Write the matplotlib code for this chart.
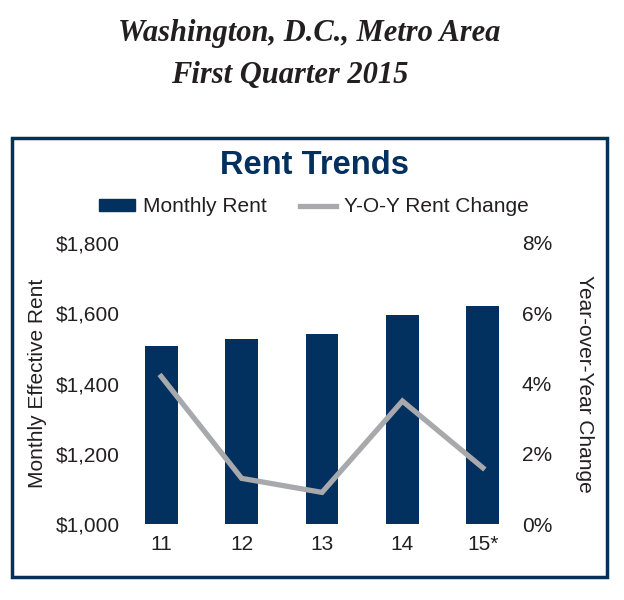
import matplotlib
matplotlib.use("Agg")
import matplotlib.pyplot as plt
from matplotlib.patches import Rectangle, Patch
from matplotlib.lines import Line2D
from matplotlib.ticker import FuncFormatter

categories = ["11", "12", "13", "14", "15*"]
monthly_rent = [1507, 1527, 1541, 1595, 1621]
yoy_change = [4.2, 1.3, 0.9, 3.5, 1.6]
rent_ticks = [1000, 1200, 1400, 1600, 1800]
pct_ticks = [0, 2, 4, 6, 8]

NAVY = "#02305f"
GRAY = "#a7a9ac"
TXT = "#231f20"
plt.rcParams['font.family'] = ['Liberation Sans', 'DejaVu Sans']

fig = plt.figure(figsize=(6.24, 6.0), dpi=100)
fig.patch.set_facecolor("white")

# Frame
fig.patches.append(Rectangle((12/624, 1-577/600), (607-12)/624, (577-138)/600,
                             transform=fig.transFigure, fill=False,
                             edgecolor=NAVY, linewidth=2.5, zorder=0))

# Titles
fig.text(309/624, 1-33/600, "Washington, D.C., Metro Area", ha="center", va="center",
         fontsize=22, fontweight="bold", style="italic", family="Liberation Serif", color=TXT)
fig.text(290/624, 1-75/600, "First Quarter 2015", ha="center", va="center",
         fontsize=22, fontweight="bold", style="italic", family="Liberation Serif", color=TXT)
fig.text(315/624, 1-165/600, "Rent Trends", ha="center", va="center",
         fontsize=23.5, fontweight="bold", color=NAVY)

ax = fig.add_axes([125/624, 1-524/600, (515-125)/624, (524-243)/600])
x = list(range(len(categories)))
ax.bar(x, [v - rent_ticks[0] for v in monthly_rent], bottom=rent_ticks[0],
       width=0.41, color=NAVY, zorder=2)
ax.set_ylim(rent_ticks[0], rent_ticks[-1])
ax.set_xlim(-0.45, 4.4)
ax.set_yticks(rent_ticks)
ax.yaxis.set_major_formatter(FuncFormatter(lambda v, p: "${:,.0f}".format(v)))
ax.set_xticks(x)
ax.set_xticklabels(categories)
for s in ax.spines.values():
    s.set_visible(False)
ax.tick_params(length=0, labelsize=15, labelcolor=TXT, pad=4)
ax.tick_params(axis="x", pad=8)
ax.set_ylabel("Monthly Effective Rent", fontsize=15, color=TXT, labelpad=6)

ax2 = ax.twinx()
ax2.plot(x, yoy_change, color=GRAY, linewidth=3.8, zorder=3, solid_joinstyle="miter")
ax2.set_ylim(pct_ticks[0], pct_ticks[-1])
ax2.set_yticks(pct_ticks)
ax2.yaxis.set_major_formatter(FuncFormatter(lambda v, p: "{:.0f}%".format(v)))
for s in ax2.spines.values():
    s.set_visible(False)
ax2.tick_params(length=0, labelsize=15, labelcolor=TXT, pad=5)
ax2.set_ylabel("Year-over-Year Change", fontsize=15, color=TXT, rotation=270, labelpad=30)

handles = [Patch(facecolor=NAVY, edgecolor=NAVY),
           Line2D([0], [0], color=GRAY, linewidth=3.8)]
fig.legend(handles, ["Monthly Rent", "Y-O-Y Rent Change"], loc="center",
           bbox_to_anchor=(314/624, 1-207/600), ncol=2, frameon=False,
           fontsize=15, handlelength=1.7, handleheight=0.55, handletextpad=0.4,
           columnspacing=1.6, labelcolor=TXT)

fig.savefig("out.png", dpi=100, facecolor="white")
